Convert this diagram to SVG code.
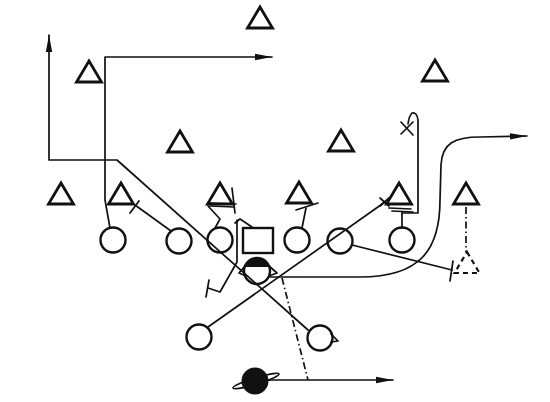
<svg xmlns="http://www.w3.org/2000/svg" width="550" height="402" viewBox="0 0 550 402">
<style>
.tri{fill:none;stroke:#111;stroke-width:2.8;stroke-linejoin:miter}
.dtri{fill:none;stroke:#111;stroke-width:2.2;stroke-dasharray:5 4}
.pl{fill:none;stroke:#111;stroke-width:2.4}
.ln{fill:none;stroke:#111;stroke-width:1.7;stroke-linecap:round;stroke-linejoin:round}
.dd{fill:none;stroke:#111;stroke-width:1.7;stroke-dasharray:7 3 1.5 3}
</style>
<defs>
<path id="t" d="M0,0 L12.5,21 L-12.5,21 Z"/>
<marker id="arr" markerWidth="18" markerHeight="9" refX="17" refY="4.5" orient="auto" markerUnits="userSpaceOnUse">
<path d="M0,1.3 L17,4.5 L0,7.7 Z" fill="#111"/>
</marker>
</defs>
<rect width="550" height="402" fill="#fff"/>

<g id="defense">
<g id="T1"><use href="#t" x="260" y="7" class="tri"/></g>
<g id="T2"><use href="#t" x="89" y="61" class="tri"/></g>
<g id="T3"><use href="#t" x="435" y="60" class="tri"/></g>
<g id="T4"><use href="#t" x="180" y="131" class="tri"/></g>
<g id="T5"><use href="#t" x="341" y="130" class="tri"/></g>
<g id="T6"><use href="#t" x="61" y="183" class="tri"/></g>
<g id="T7"><use href="#t" x="121" y="183" class="tri"/></g>
<g id="T8"><use href="#t" x="220" y="183" class="tri"/></g>
<g id="T9"><use href="#t" x="299" y="182" class="tri"/></g>
<g id="T10"><use href="#t" x="399" y="183" class="tri"/></g>
<g id="T11"><use href="#t" x="466" y="183" class="tri"/></g>
<g id="T12"><use href="#t" x="467" y="252" class="dtri"/></g>
</g>

<g id="offense">
<g id="C1"><circle cx="113" cy="240" r="12.5" class="pl"/></g>
<g id="C2"><circle cx="179" cy="241" r="12.5" class="pl"/></g>
<g id="C3"><circle cx="220" cy="240" r="12.5" class="pl"/></g>
<g id="center"><rect x="243" y="228" width="30" height="25" class="pl" stroke-width="3.2"/></g>
<g id="C4"><circle cx="297" cy="240" r="12.5" class="pl"/></g>
<g id="C5"><circle cx="340" cy="241" r="12.5" class="pl"/></g>
<g id="C6"><circle cx="402" cy="240" r="12.5" class="pl"/></g>
<g id="QB">
<path d="M244.6,267 A13,13 0 0 1 269.4,267 Z" fill="#111"/>
<circle cx="257" cy="271" r="13" class="pl"/>
<path d="M245,266 L239,273 L246,276" class="ln"/>
<path d="M269,266 L277,273 L269,276" class="ln"/>
</g>
<g id="C7"><circle cx="199" cy="337" r="12.5" class="pl"/></g>
<g id="C8"><circle cx="320" cy="338" r="12.5" class="pl"/><path d="M331,334 L338,341 L331,342" class="ln"/></g>
<g id="ball">
<ellipse cx="256" cy="381" rx="24" ry="3.2" transform="rotate(-17 256 381)" class="ln"/>
<circle cx="255" cy="381" r="13.5" fill="#111"/>
</g>
</g>

<g id="connectors">
<path d="M308,330 L117,160 L49,160 L49,35" class="ln" marker-end="url(#arr)"/>
<path d="M110,228 L105,200 L105,57 L272,57" class="ln" marker-end="url(#arr)"/>
<path d="M171,231 L135,205" class="ln"/>
<path d="M130,213 L139,201" class="ln"/>
<path d="M215,228 L220,219 L208,206" class="ln"/>
<path d="M208,203 L236,204 M210,206 L234,207" class="ln"/>
<path d="M232,188 L235,213" class="ln"/>
<path d="M252,227 L240,219 L235,223" class="ln"/>
<path d="M237,220 L237,262 L220,292 L208,288" class="ln"/>
<path d="M209,280 L206,297" class="ln"/>
<path d="M208,327 L385,202" class="ln"/>
<path d="M380,198 L389,206 M380,206 L389,198" class="ln"/>
<path d="M302,228 L306,208" class="ln"/>
<path d="M296,210 L318,203" class="ln"/>
<path d="M402,228 L402,213" class="ln"/>
<path d="M389,208 L411,209 M392,211 L413,212" class="ln"/>
<path d="M402,213 L418,213 L418,120 Q417,112 412,113 Q409,116 408,124" class="ln"/>
<path d="M401,122 L413,135 M413,122 L401,134" class="ln"/>
<path d="M352,245 L452,270" class="ln"/>
<path d="M453,261 L450,281" class="ln"/>
<path d="M466,207 L466,252" class="dd"/>
<path d="M270,277 L360,277 C420,277 440,250 440,200 L441,165 C442,143 455,137 480,137 L527,136" class="ln" marker-end="url(#arr)"/>
<path d="M282,278 L308,380" class="dd"/>
<path d="M268,380 L393,380" class="ln" marker-end="url(#arr)"/>
</g>
</svg>
